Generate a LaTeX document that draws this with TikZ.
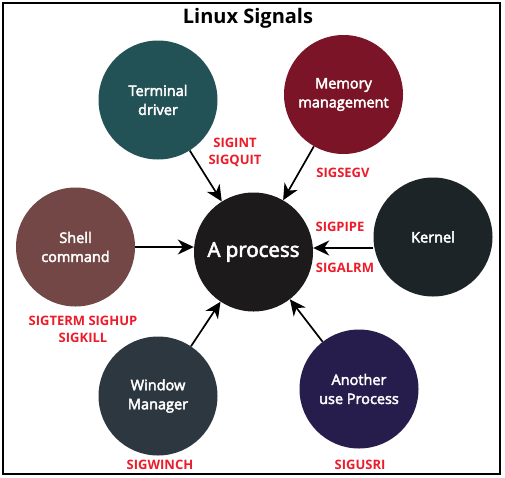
\documentclass[tikz,border=0pt]{standalone}
\usepackage{fontspec}
\setmainfont{Open Sans}
\newfontfamily\semib[FakeBold=3]{Open Sans}
\usetikzlibrary{arrows.meta}
\definecolor{cterm}{HTML}{235256}
\definecolor{cmem}{HTML}{7B1426}
\definecolor{cproc}{HTML}{1C1A1B}
\definecolor{cshell}{HTML}{734745}
\definecolor{ckern}{HTML}{1C2427}
\definecolor{cwin}{HTML}{2D3740}
\definecolor{cano}{HTML}{261D4D}
\definecolor{sigred}{HTML}{EC1C2A}
\tikzset{
  src/.style={circle, minimum size=119pt, inner sep=0pt, text=white, align=center,
    font=\semib\fontsize{14.5}{19}\selectfont},
  sig/.style={text=sigred, font=\bfseries\fontsize{13}{17}\selectfont, inner sep=0pt, align=center},
  conn/.style={-{Stealth[length=16pt,width=15pt,inset=5pt]}, line width=1.7pt, black},
}
\begin{document}
\begin{tikzpicture}[x=1pt,y=-1pt]
\useasboundingbox (0,0) rectangle (505,477);
\draw[line width=1.3pt] (3,3) rectangle (500,474);
\node[font=\fontsize{20}{24}\selectfont\bfseries] (title) at (248,18) {Linux Signals};
\node[src, fill=cproc, font=\semib\fontsize{20.5}{24}\selectfont] (proc) at (253.5,252) {A process};
\node[src, fill=cterm] (term) at (158,100) {Terminal\\driver};
\node[src, fill=cmem] (mem) at (343.5,94.5) {Memory\\management};
\node[src, fill=cshell] (shell) at (75.5,247) {Shell\\command};
\node[src, fill=ckern] (kern) at (433,237) {Kernel};
\node[src, fill=cwin] (win) at (158,396) {Window\\Manager};
\node[src, fill=cano] (ano) at (359,389) {Another\\use Process};
\node[sig] (l1) at (235,152) {SIGINT\\SIGQUIT};
\node[sig] (l2) at (343,173) {SIGSEGV};
\node[sig] (l3) at (340,227) {SIGPIPE};
\node[sig] (l4) at (345,268) {SIGALRM};
\node[sig] (l5) at (83,329) {SIGTERM SIGHUP\\SIGKILL};
\node[sig] (l6) at (160,465) {SIGWINCH};
\node[sig] (l7) at (360,465) {SIGUSRI};
\draw[conn] (term) -- (proc);
\draw[conn] (mem) -- (proc);
\draw[conn] (shell.east) -- (shell.east -| proc.west);
\draw[conn] (kern.west |- 0,248) -- (proc.east |- 0,248);
\draw[conn] (win) -- (proc);
\draw[conn] (ano) -- (proc);
\end{tikzpicture}
\end{document}
